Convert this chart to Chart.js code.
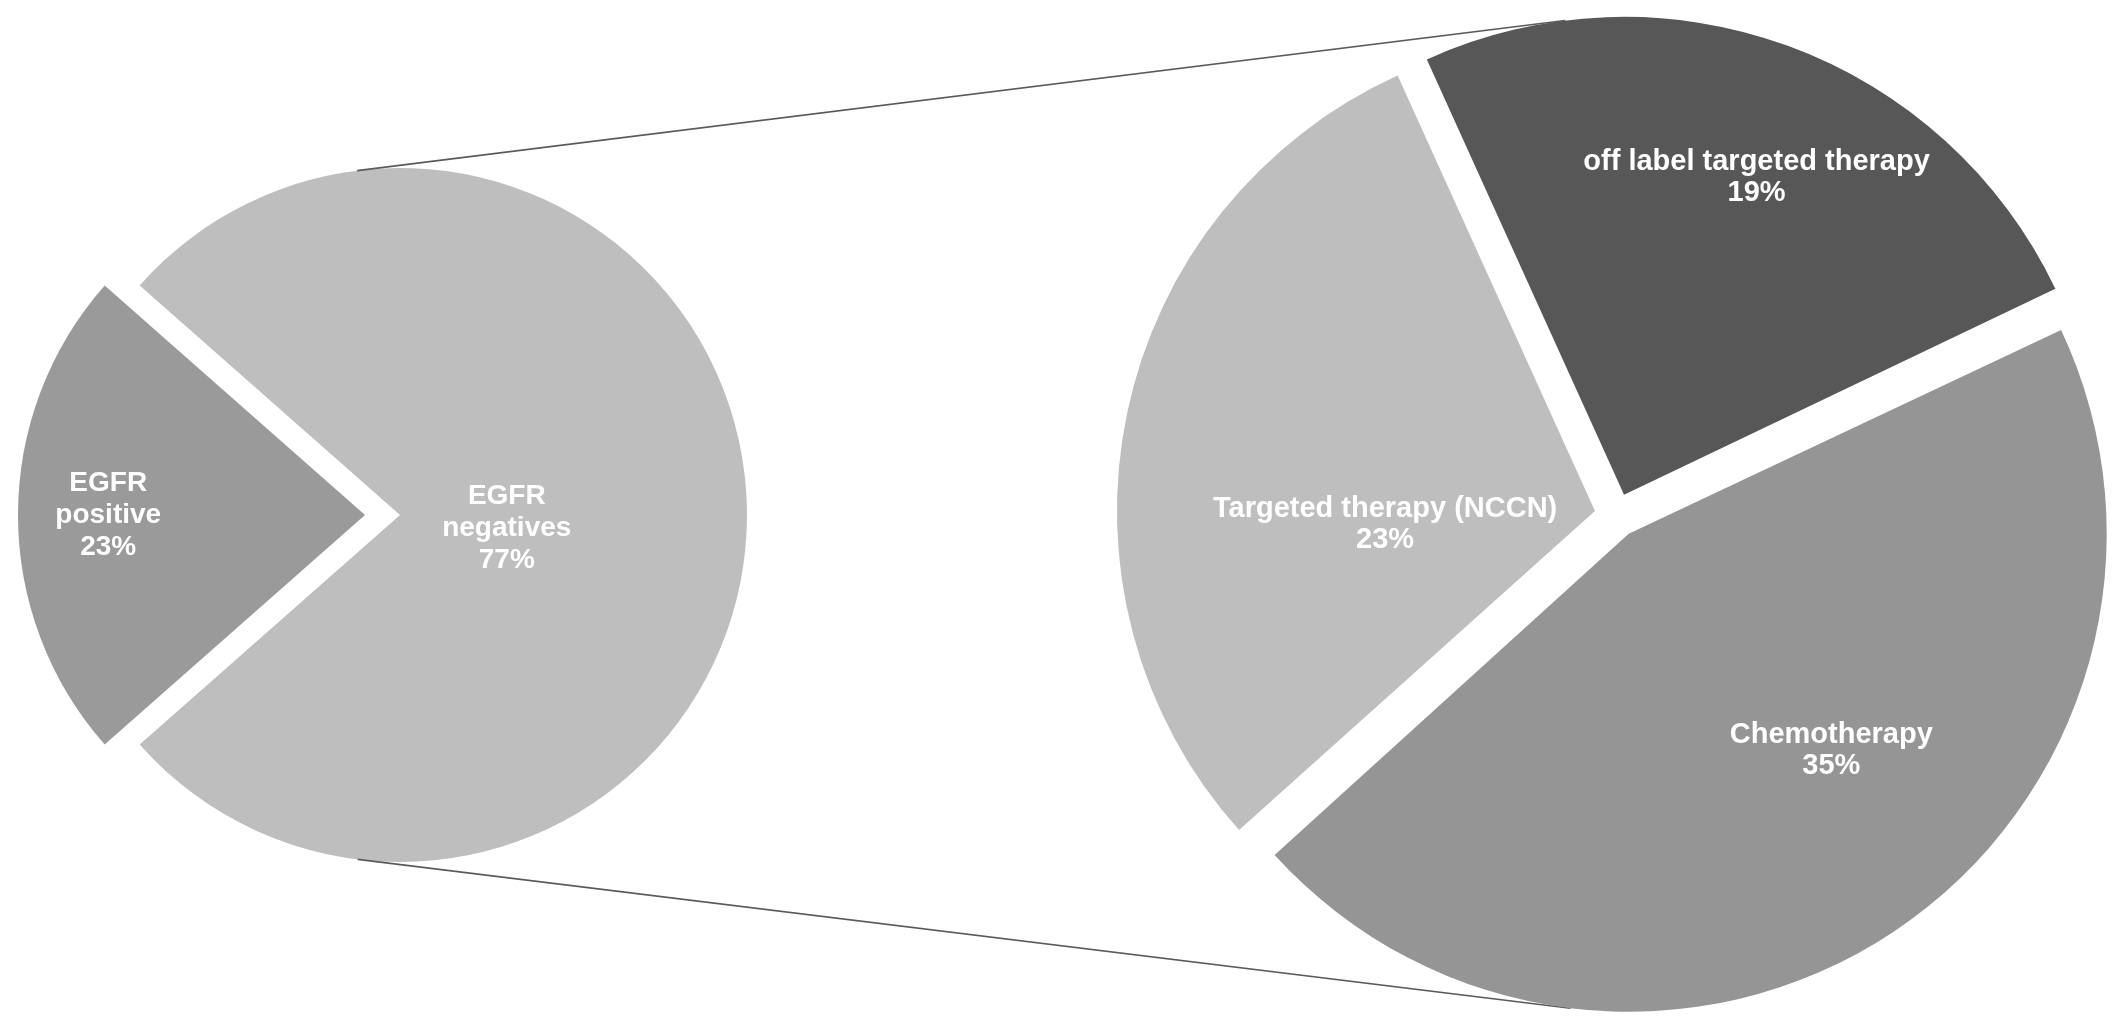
<!DOCTYPE html>
<html>
<head>
<meta charset="utf-8">
<title>EGFR pie of pie</title>
<script src="https://cdn.jsdelivr.net/npm/chart.js@4.4.1/dist/chart.umd.min.js"></script>
<style>
  html, body { margin: 0; padding: 0; background: #fff; overflow: hidden; }
  #wrap { position: relative; width: 2126px; height: 1031px; }
  #wrap canvas { position: absolute; left: 0; top: 0; }
</style>
</head>
<body>
<div id="wrap">
  <canvas id="egfr-canvas" width="2126" height="1031"></canvas>
  <canvas id="therapy-canvas" width="2126" height="1031"></canvas>
</div>
<script>
/* -------------  DATA  ------------- */
const egfrLabels = [['EGFR', 'positive'], ['EGFR', 'negatives']];
const egfrValues = [23, 77];

const therapyLabels = [['Targeted therapy (NCCN)'], ['off label targeted therapy'], ['Chemotherapy']];
const therapyValues = [23, 19, 35];

/* -------------  LAYOUT / STYLE  ------------- */
const PAGE_W = 2126;
const PAGE_H = 1031;

const egfrPie = {
  cx: 400, cy: 515, radius: 347, rotation: 228.6,
  colors: ['#9a9a9a', '#bebebe'],
  offsets: [140, 0],
  fontSize: 28, lineHeight: 32,
  labelPlace: [[0.74, 0], [0.31, 7]], // [share of radius, turn in degrees]
};

const therapyPie = {
  cx: 1616.5, cy: 515.5, radius: 478, rotation: 228.1,
  colors: ['#bebebe', '#575757', '#959595'],
  offsets: [88, 88, 88],
  fontSize: 29, lineHeight: 31,
  labelPlace: [[0.44, -15.6], [0.72, 2.6], [0.62, -9.4]],
};

/* -------------  HELPERS  ------------- */

/**
 * Center of a slice after it has been pulled out by its offset.
 */
function sliceCenter(arc) {
  const t = (arc.options.offset || 0) / 4;
  const mid = (arc.startAngle + arc.endAngle) / 2;
  return { x: arc.x + Math.cos(mid) * t, y: arc.y + Math.sin(mid) * t, mid: mid };
}

function containsAngle(arc, angle) {
  const span = arc.endAngle - arc.startAngle;
  let d = (angle - arc.startAngle) % (2 * Math.PI);
  if (d < 0) d += 2 * Math.PI;
  return d <= span;
}

/**
 * Outer tangent between two circles. side -1 = upper, +1 = lower.
 */
function tangent(c1, c2, side) {
  const dx = c2.x - c1.x;
  const dy = c2.y - c1.y;
  const dist = Math.hypot(dx, dy);
  const ang = Math.atan2(dy, dx) + side * Math.acos((c1.r - c2.r) / dist);
  const nx = Math.cos(ang);
  const ny = Math.sin(ang);
  return [c1.x + nx * c1.r, c1.y + ny * c1.r, c2.x + nx * c2.r, c2.y + ny * c2.r];
}

/* -------------  PLUGINS  ------------- */

// keeps every pulled-out slice at the same radius
const radiusFix = {
  id: 'radiusFix',
  beforeDatasetsDraw(chart, args, opts) {
    chart.getDatasetMeta(0).data.forEach((arc) => {
      const t = (arc.options.offset || 0) / 4;
      const fix = 1 - Math.sin(Math.min(Math.PI, arc.circumference));
      arc.outerRadius = opts.radius - t * fix;
    });
  },
};

const sliceLabels = {
  id: 'sliceLabels',
  afterDatasetsDraw(chart, args, opts) {
    const ctx = chart.ctx;
    const values = chart.data.datasets[0].data;
    ctx.save();
    ctx.fillStyle = '#ffffff';
    ctx.font = 'bold ' + opts.size + 'px "Liberation Sans", Arial, sans-serif';
    ctx.textAlign = 'center';
    ctx.textBaseline = 'middle';
    chart.getDatasetMeta(0).data.forEach((arc, i) => {
      const c = sliceCenter(arc);
      const place = opts.place[i];
      const ang = c.mid + (place[1] * Math.PI) / 180;
      const x = c.x + Math.cos(ang) * place[0] * opts.radius;
      const y = c.y + Math.sin(ang) * place[0] * opts.radius;
      const lines = [].concat(chart.data.labels[i], values[i] + '%');
      const top = y - ((lines.length - 1) * opts.lineHeight) / 2;
      lines.forEach((line, j) => ctx.fillText(line, x, top + j * opts.lineHeight));
    });
    ctx.restore();
  },
};

const connectorLines = {
  id: 'connectorLines',
  beforeDatasetsDraw(chart) {
    const leftArcs = egfrChart.getDatasetMeta(0).data;
    const big = leftArcs[egfrValues.indexOf(Math.max(...egfrValues))];
    const lc = sliceCenter(big);
    const left = { x: lc.x, y: lc.y, r: egfrPie.radius };

    const arcs = chart.getDatasetMeta(0).data;
    const topArc = arcs.find((a) => containsAngle(a, -Math.PI / 2));
    const bottomArc = arcs.find((a) => containsAngle(a, Math.PI / 2));
    const tc = sliceCenter(topArc);
    const bc = sliceCenter(bottomArc);

    const lines = [
      tangent(left, { x: tc.x, y: tc.y, r: therapyPie.radius }, -1),
      tangent(left, { x: bc.x, y: bc.y, r: therapyPie.radius }, 1),
    ];
    const ctx = chart.ctx;
    ctx.save();
    ctx.strokeStyle = '#5a5a5a';
    ctx.lineWidth = 1.6;
    lines.forEach((l) => {
      ctx.beginPath();
      ctx.moveTo(l[0], l[1]);
      ctx.lineTo(l[2], l[3]);
      ctx.stroke();
    });
    ctx.restore();
  },
};

/* -------------  CHARTS  ------------- */

function centerPadding(pie) {
  const w = Math.min(pie.cx, PAGE_W - pie.cx);
  const h = Math.min(pie.cy, PAGE_H - pie.cy);
  return { left: pie.cx - w, right: PAGE_W - pie.cx - w, top: pie.cy - h, bottom: PAGE_H - pie.cy - h };
}

function pieConfig(labels, values, pie, plugins) {
  return {
    type: 'pie',
    data: {
      labels: labels,
      datasets: [
        {
          data: values,
          backgroundColor: pie.colors,
          borderWidth: 0,
          offset: pie.offsets,
        },
      ],
    },
    options: {
      responsive: false,
      animation: false,
      events: [],
      devicePixelRatio: 1,
      radius: pie.radius,
      rotation: pie.rotation,
      layout: { padding: centerPadding(pie) },
      plugins: {
        legend: { display: false },
        tooltip: { enabled: false },
        radiusFix: { radius: pie.radius },
        sliceLabels: { size: pie.fontSize, lineHeight: pie.lineHeight, place: pie.labelPlace, radius: pie.radius },
      },
    },
    plugins: plugins,
  };
}

const egfrChart = new Chart(
  document.getElementById('egfr-canvas'),
  pieConfig(egfrLabels, egfrValues, egfrPie, [radiusFix, sliceLabels])
);

const therapyChart = new Chart(
  document.getElementById('therapy-canvas'),
  pieConfig(therapyLabels, therapyValues, therapyPie, [radiusFix, connectorLines, sliceLabels])
);
</script>
</body>
</html>
